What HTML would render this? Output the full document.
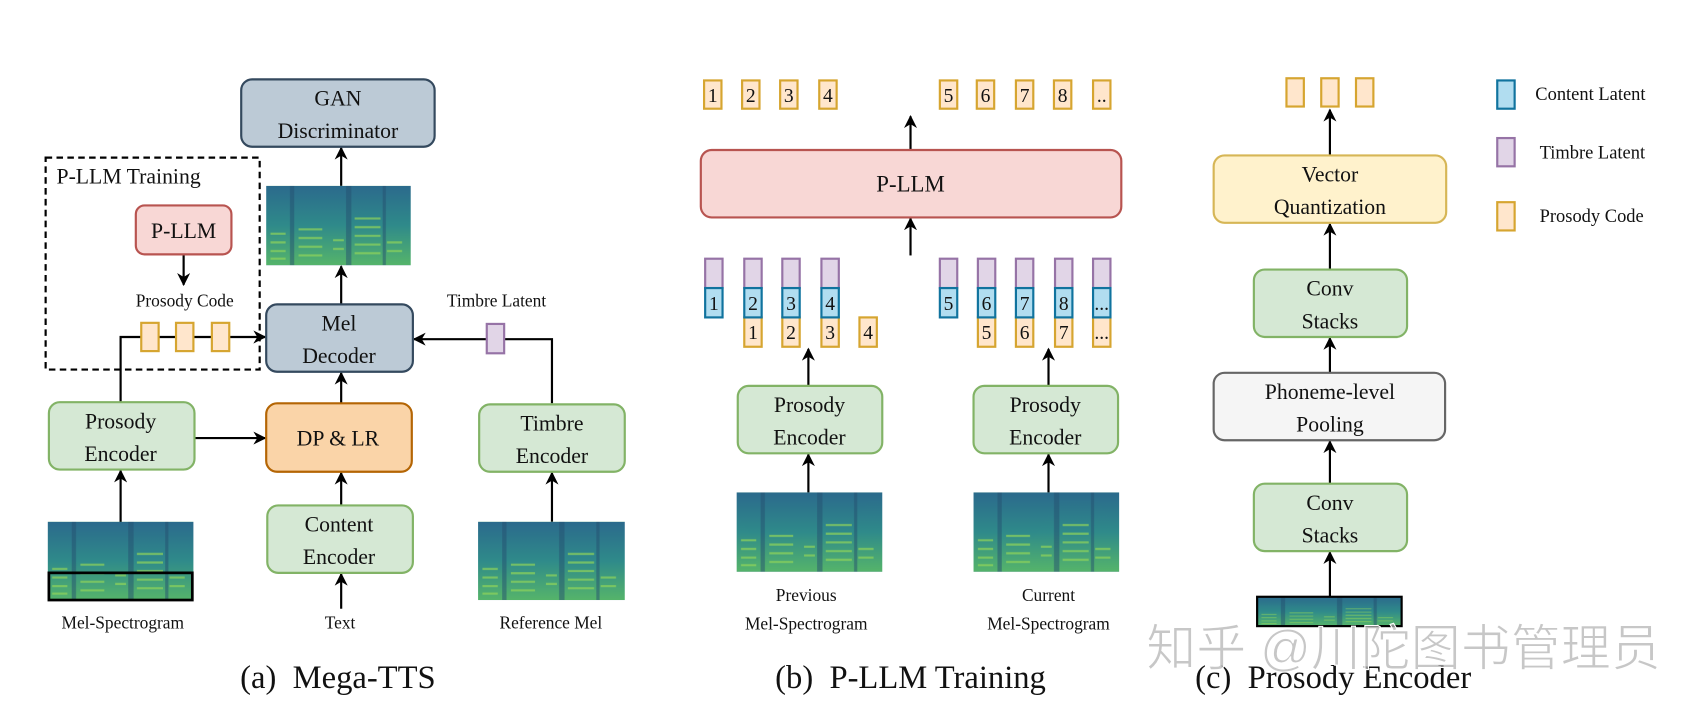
<!DOCTYPE html>
<html><head><meta charset="utf-8"><style>
html,body{margin:0;padding:0;background:#fff;width:1695px;height:712px;overflow:hidden}
svg{display:block}
text{font-family:"Liberation Serif",serif;fill:#111}
</style></head><body>
<svg width="1695" height="712" viewBox="0 0 1560 655" preserveAspectRatio="none" xmlns="http://www.w3.org/2000/svg">
<defs>
<marker id="ar" viewBox="0 0 10 10" refX="9" refY="5" markerWidth="12" markerHeight="12" orient="auto" markerUnits="userSpaceOnUse">
<path d="M0,0 L10,5 L0,10 L3,5 z" fill="#000"/></marker>
<linearGradient id="sg" x1="0" y1="0" x2="0" y2="1">
<stop offset="0" stop-color="#2b6a8c"/><stop offset="0.5" stop-color="#2f8a8a"/><stop offset="1" stop-color="#55b46a"/></linearGradient>
<pattern id="sp" width="1" height="1" patternUnits="objectBoundingBox" viewBox="0 0 134 73" preserveAspectRatio="none">
<rect width="134" height="73" fill="url(#sg)"/>
<g stroke="#8fd35a" stroke-width="2" opacity="0.7">
<path d="M4,44h14M4,52h14M4,60h14M4,67h14M30,40h22M30,48h22M30,56h22M30,64h22M62,50h10M62,58h10M82,30h24M82,38h24M82,46h24M82,54h24M82,62h24M112,52h14M112,60h14"/>
</g>
<g fill="#24506f" opacity="0.5"><rect x="22" y="0" width="4" height="73"/><rect x="74" y="0" width="5" height="73"/><rect x="108" y="0" width="3" height="73"/></g>
</pattern>
</defs>
<g stroke="#000" stroke-width="2" fill="none" marker-end="url(#ar)">
<line x1="314" y1="171" x2="314" y2="136"/>
<line x1="314" y1="280" x2="314" y2="245"/>
<line x1="169" y1="234" x2="169" y2="262"/>
<polyline points="111,370 111,310 244,310"/>
<polyline points="508,371 508,312 381,312"/>
<line x1="179" y1="403" x2="244" y2="403"/>
<line x1="314" y1="371" x2="314" y2="343"/>
<line x1="314" y1="465" x2="314" y2="435"/>
<line x1="314" y1="560" x2="314" y2="528"/>
<line x1="111" y1="527" x2="111" y2="433"/>
<line x1="508" y1="480" x2="508" y2="435"/>
<line x1="838" y1="138" x2="838" y2="107"/>
<line x1="838" y1="235" x2="838" y2="201"/>
<line x1="744" y1="355" x2="744" y2="321"/>
<line x1="965" y1="355" x2="965" y2="321"/>
<line x1="744" y1="453" x2="744" y2="418"/>
<line x1="965" y1="453" x2="965" y2="418"/>
<line x1="1224" y1="143" x2="1224" y2="101"/>
<line x1="1224" y1="248" x2="1224" y2="206"/>
<line x1="1224" y1="343" x2="1224" y2="311"/>
<line x1="1224" y1="445" x2="1224" y2="406"/>
<line x1="1224" y1="549" x2="1224" y2="508"/>
</g>
<rect x="42" y="145" width="197" height="195" fill="none" stroke="#000" stroke-width="2" stroke-dasharray="6,4"/>
<text x="52" y="169" font-size="20">P-LLM Training</text>
<g stroke-width="2">
<rect x="222" y="73" width="178" height="62" rx="10" fill="#bccad6" stroke="#34495e"/>
<rect x="125" y="189" width="88" height="45" rx="8" fill="#f8d7d5" stroke="#b85450"/>
<rect x="245" y="280" width="135" height="62" rx="10" fill="#bccad6" stroke="#34495e"/>
<rect x="45" y="370" width="134" height="62" rx="10" fill="#d5e8d4" stroke="#82b366"/>
<rect x="245" y="371" width="134" height="63" rx="10" fill="#fad4a8" stroke="#b46504"/>
<rect x="441" y="372" width="134" height="62" rx="10" fill="#d5e8d4" stroke="#82b366"/>
<rect x="246" y="465" width="134" height="62" rx="10" fill="#d5e8d4" stroke="#82b366"/>
</g>
<rect x="245" y="171" width="133" height="73" fill="url(#sp)"/>
<rect x="44" y="480" width="134" height="72" fill="url(#sp)"/>
<rect x="45" y="527" width="132" height="25" fill="none" stroke="#000" stroke-width="2.5"/>
<rect x="440" y="480" width="135" height="72" fill="url(#sp)"/>
<g fill="#ffe6cc" stroke="#d6a530" stroke-width="2">
<rect x="130" y="297" width="16" height="26"/><rect x="162" y="297" width="16" height="26"/><rect x="195" y="297" width="16" height="26"/>
</g>
<rect x="448" y="298" width="16" height="27" fill="#e1d5e7" stroke="#9673a6" stroke-width="2"/>
<g font-size="20" text-anchor="middle">
<text x="311" y="97">GAN</text><text x="311" y="127">Discriminator</text>
<text x="169" y="219">P-LLM</text>
<text x="312" y="304">Mel</text><text x="312" y="334">Decoder</text>
<text x="111" y="394">Prosody</text><text x="111" y="424">Encoder</text>
<text x="311" y="410">DP &amp; LR</text>
<text x="508" y="396">Timbre</text><text x="508" y="426">Encoder</text>
<text x="312" y="489">Content</text><text x="312" y="519">Encoder</text>
</g>
<g font-size="16" text-anchor="middle">
<text x="170" y="282">Prosody Code</text>
<text x="457" y="282">Timbre Latent</text>
<text x="113" y="578">Mel-Spectrogram</text>
<text x="313" y="578">Text</text>
<text x="507" y="578">Reference Mel</text>
<text x="742" y="553">Previous</text><text x="742" y="579">Mel-Spectrogram</text>
<text x="965" y="553">Current</text><text x="965" y="579">Mel-Spectrogram</text>
</g>
<rect x="645" y="138" width="387" height="62" rx="10" fill="#f8d7d5" stroke="#b85450" stroke-width="2"/>
<text x="838" y="176" font-size="21" text-anchor="middle">P-LLM</text>
<g stroke-width="2" font-size="18" text-anchor="middle">
<g fill="#ffe6cc" stroke="#d6a530">
<rect x="648" y="74" width="16" height="26"/><rect x="683" y="74" width="16" height="26"/><rect x="718" y="74" width="16" height="26"/><rect x="754" y="74" width="16" height="26"/>
<rect x="865" y="74" width="16" height="26"/><rect x="899" y="74" width="16" height="26"/><rect x="935" y="74" width="16" height="26"/><rect x="970" y="74" width="16" height="26"/><rect x="1006" y="74" width="16" height="26"/>
<rect x="685" y="292" width="16" height="27"/><rect x="720" y="292" width="16" height="27"/><rect x="756" y="292" width="16" height="27"/><rect x="791" y="292" width="16" height="27"/>
<rect x="900" y="292" width="16" height="27"/><rect x="935" y="292" width="16" height="27"/><rect x="971" y="292" width="16" height="27"/><rect x="1006" y="292" width="16" height="27"/>
</g>
<g fill="#e1d5e7" stroke="#9673a6">
<rect x="649" y="238" width="16" height="27"/><rect x="685" y="238" width="16" height="27"/><rect x="720" y="238" width="16" height="27"/><rect x="756" y="238" width="16" height="27"/>
<rect x="865" y="238" width="16" height="27"/><rect x="900" y="238" width="16" height="27"/><rect x="935" y="238" width="16" height="27"/><rect x="971" y="238" width="16" height="27"/><rect x="1006" y="238" width="16" height="27"/>
</g>
<g fill="#b1ddf0" stroke="#10739e">
<rect x="649" y="265" width="16" height="27"/><rect x="685" y="265" width="16" height="27"/><rect x="720" y="265" width="16" height="27"/><rect x="756" y="265" width="16" height="27"/>
<rect x="865" y="265" width="16" height="27"/><rect x="900" y="265" width="16" height="27"/><rect x="935" y="265" width="16" height="27"/><rect x="971" y="265" width="16" height="27"/><rect x="1006" y="265" width="16" height="27"/>
</g>
<text x="656" y="94">1</text><text x="691" y="94">2</text><text x="726" y="94">3</text><text x="762" y="94">4</text>
<text x="873" y="94">5</text><text x="907" y="94">6</text><text x="943" y="94">7</text><text x="978" y="94">8</text><text x="1014" y="94">..</text>
<text x="657" y="285">1</text><text x="693" y="285">2</text><text x="728" y="285">3</text><text x="764" y="285">4</text>
<text x="873" y="285">5</text><text x="908" y="285">6</text><text x="943" y="285">7</text><text x="979" y="285">8</text><text x="1014" y="285">...</text>
<text x="693" y="312">1</text><text x="728" y="312">2</text><text x="764" y="312">3</text><text x="799" y="312">4</text>
<text x="908" y="312">5</text><text x="943" y="312">6</text><text x="979" y="312">7</text><text x="1014" y="312">...</text>
</g>
<g stroke-width="2">
<rect x="679" y="355" width="133" height="62" rx="10" fill="#d5e8d4" stroke="#82b366"/>
<rect x="896" y="355" width="133" height="62" rx="10" fill="#d5e8d4" stroke="#82b366"/>
</g>
<rect x="678" y="453" width="134" height="73" fill="url(#sp)"/>
<rect x="896" y="453" width="134" height="73" fill="url(#sp)"/>
<g font-size="20" text-anchor="middle">
<text x="745" y="379">Prosody</text><text x="745" y="409">Encoder</text>
<text x="962" y="379">Prosody</text><text x="962" y="409">Encoder</text>
</g>
<g fill="#ffe6cc" stroke="#d6a530" stroke-width="2">
<rect x="1184" y="72" width="16" height="26"/><rect x="1216" y="72" width="16" height="26"/><rect x="1248" y="72" width="16" height="26"/>
</g>
<g stroke-width="2">
<rect x="1117" y="143" width="214" height="62" rx="10" fill="#fff2cc" stroke="#d6b656"/>
<rect x="1154" y="248" width="141" height="62" rx="10" fill="#d5e8d4" stroke="#82b366"/>
<rect x="1117" y="343" width="213" height="62" rx="10" fill="#f5f5f5" stroke="#666"/>
<rect x="1154" y="445" width="141" height="62" rx="10" fill="#d5e8d4" stroke="#82b366"/>
</g>
<rect x="1157" y="549" width="133" height="27" fill="url(#sp)" stroke="#000" stroke-width="2"/>
<g font-size="20" text-anchor="middle">
<text x="1224" y="167">Vector</text><text x="1224" y="197">Quantization</text>
<text x="1224" y="272">Conv</text><text x="1224" y="302">Stacks</text>
<text x="1224" y="367" fill="#333">Phoneme-level</text><text x="1224" y="397" fill="#333">Pooling</text>
<text x="1224" y="469">Conv</text><text x="1224" y="499">Stacks</text>
</g>
<rect x="1378" y="74" width="16" height="26" fill="#b1ddf0" stroke="#10739e" stroke-width="2"/>
<rect x="1378" y="127" width="16" height="26" fill="#e1d5e7" stroke="#9673a6" stroke-width="2"/>
<rect x="1378" y="186" width="16" height="26" fill="#ffe6cc" stroke="#d6a530" stroke-width="2"/>
<g font-size="17">
<text x="1413" y="92">Content Latent</text>
<text x="1417" y="146">Timbre Latent</text>
<text x="1417" y="204">Prosody Code</text>
</g>
<g font-size="30" text-anchor="middle">
<text x="311" y="633" xml:space="preserve">(a)  Mega-TTS</text>
<text x="838" y="633" xml:space="preserve">(b)  P-LLM Training</text>
<text x="1227" y="633" xml:space="preserve">(c)  Prosody Encoder</text>
</g>
<text x="1055" y="612" font-size="46" style="font-family:'Liberation Sans','Noto Sans CJK SC',sans-serif;fill:#b4b4b4;fill-opacity:0.75" stroke="#fff" stroke-width="1">知乎 @川陀图书管理员</text>
</svg>
</body></html>
